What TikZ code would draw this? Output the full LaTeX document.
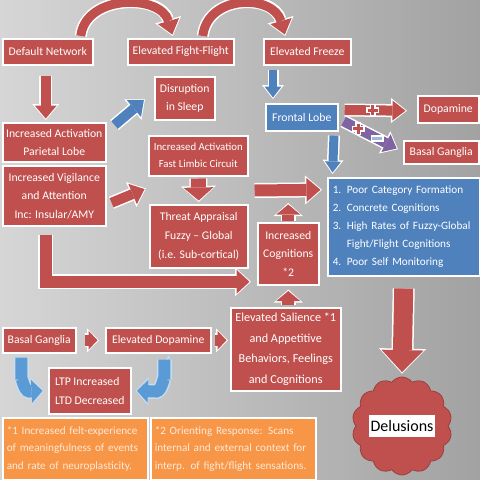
\documentclass[tikz,border=0pt]{standalone}
\usepackage{fontspec}
\setmainfont{Carlito}
\usetikzlibrary{arrows.meta,calc,shapes.symbols,shadows}
\definecolor{rd}{HTML}{C0504D}
\definecolor{bl}{HTML}{4F81BD}
\definecolor{og}{HTML}{F79646}
\definecolor{pu}{HTML}{8064A2}
\definecolor{lb}{HTML}{5B9BD5}
\definecolor{ogtext}{HTML}{FDE9D9}
\definecolor{bgA}{HTML}{D6D6D6}
\definecolor{bgB}{HTML}{D0D0D0}
\definecolor{bgC}{HTML}{A2A2A2}
\begin{document}
\begin{tikzpicture}[x=1pt,y=-1pt,
  box/.style={draw=white, line width=1.5pt, fill=rd, text=white, anchor=north west,
    inner sep=2pt, align=center, font=\fontsize{11.7}{18.5}\selectfont,
    drop shadow={opacity=0.25,shadow xshift=1pt,shadow yshift=-1.5pt}},
  bbox/.style={box, fill=bl},
  obox/.style={draw=white, line width=1.5pt, fill=og, text=ogtext, anchor=north west,
    align=left, inner xsep=4pt, font=\fontsize{11.2}{17.5}\selectfont},
  fat/.style n args={8}{draw=#1, line width=#3, -{Triangle[width=#5,length=#7,line width=0pt]},
    shorten >=1.5pt,
    preaction={draw=#2, line width=#4, -{Triangle[width=#6,length=#8,line width=0pt]}, shorten >=0pt}},
  ra/.style={fat={rd}{white}{10pt}{13pt}{22pt}{27pt}{13pt}{16pt}},
  rb/.style={fat={rd}{white}{12pt}{15pt}{24pt}{29pt}{10pt}{13pt}},
  rs/.style={fat={rd}{white}{11pt}{14pt}{19pt}{24pt}{9pt}{12pt}},
  lbc/.style={fat={lb}{lb!35!white}{12pt}{15pt}{23pt}{28pt}{11pt}{13pt}},
  plusmark/.pic={\draw[white,line width=6pt] (-6.5,0)--(6.5,0) (0,-6.5)--(0,6.5);
    \draw[rd,line width=3pt] (-5,0)--(5,0) (0,-5)--(0,5);},
  minusmark/.pic={\draw[white,line width=6.5pt] (-6.5,0)--(6.5,0);
    \draw[bl!55!white,line width=3.5pt] (-5,0)--(5,0);}
]
\useasboundingbox (0,0) rectangle (480,480);
\shade[left color=bgA, middle color=bgB, right color=bgC] (0,0) rectangle (480,480);

% boxes
\node[box, minimum width=90, minimum height=26] (dn) at (2,38) {Default Network};
\node[box, minimum width=106, minimum height=26] (eff) at (127,38) {Elevated Fight-Flight};
\node[box, minimum width=87, minimum height=26] (efz) at (263,38) {Elevated Freeze};
\node[box, minimum width=60, minimum height=43] (dis) at (154,76) {Disruption\\in Sleep};
\node[box, minimum width=103, minimum height=39] (pl) at (2,122) {Increased Activation\\Parietal Lobe};
\node[box, minimum width=103, minimum height=60] (iv) at (2,165) {Increased Vigilance\\and Attention\\Inc: Insular/AMY};
\node[bbox, minimum width=72, minimum height=27] (fl) at (265,103) {Frontal Lobe};
\node[box, minimum width=61, minimum height=27] (dop) at (417,95) {Dopamine};
\node[box, minimum width=75, minimum height=23] (bgr) at (403,140) {Basal Ganglia};
\node[box, minimum width=99, minimum height=40, font=\fontsize{10.8}{17}\selectfont] (flc) at (148,135) {Increased Activation\\Fast Limbic Circuit};
\node[box, minimum width=98, minimum height=63, font=\fontsize{11.7}{19}\selectfont] (ta) at (149,204) {Threat Appraisal\\Fuzzy -- Global\\(i.e. Sub-cortical)};
\node[bbox, minimum width=152, minimum height=98, align=left, text width=142, inner xsep=5pt,
  font=\fontsize{11.2}{18}\selectfont] (pc) at (327,177)
  {1. Poor Category Formation\\2. Concrete Cognitions\\3. High Rates of Fuzzy-Global\\\hphantom{3. }Fight/Flight Cognitions\\4. Poor Self Monitoring};
\node[box, minimum width=61, minimum height=62] (ic) at (257,222) {Increased\\Cognitions\\*2};
\node[box, minimum width=110, minimum height=83, font=\fontsize{12.2}{20.5}\selectfont] (es) at (230,307) {Elevated Salience *1\\and Appetitive\\Behaviors, Feelings\\and Cognitions};
\node[box, minimum width=73, minimum height=25] (bgl) at (2,327) {Basal Ganglia};
\node[box, minimum width=105, minimum height=25] (edp) at (105,327) {Elevated Dopamine};
\node[box, minimum width=82, minimum height=46, align=left] (ltp) at (48,367) {LTP Increased\\LTD Decreased};
\node[obox, minimum width=145, minimum height=62, text width=137] (o1) at (2,417)
  {*1 Increased felt-experience\\of meaningfulness of events\\and rate of neuroplasticity.};
\node[obox, minimum width=165, minimum height=62, text width=157] (o2) at (150,417)
  {*2 Orienting Response: Scans\\internal and external context for\\interp. of fight/flight sensations.};
\node[cloud, cloud puffs=14, cloud puff arc=110, aspect=1, minimum width=100, minimum height=98,
  fill=rd, draw=rd!80!black, line width=0.8pt] (del) at (402,426) {};
\node[fill=white, text=black, font=\fontsize{16}{18}\selectfont, inner sep=2pt, minimum height=22] (deltxt) at (del.center) {Delusions};

% connectors
\draw[ra] ($(dn.south)+(-2,10)$) -- ($(pl.north)+(-8.5,-2)$);
\draw[fat={bl}{white}{10pt}{13pt}{22pt}{27pt}{13pt}{16pt}] ($(pl.north east)+(8,3)$) -- ($(dis.west)+(-9,1)$);
\draw[ra] ($(iv.east)+(5,7)$) -- ($(flc.south west)+(-2,12)$);
\draw[fat={rd}{white}{15pt}{18pt}{30pt}{35pt}{13pt}{16pt}] ($(flc.south)+(0,2)$) -- ($(ta.north)+(0,-2)$);
\draw[fat={rd}{white}{12pt}{15pt}{24pt}{29pt}{13pt}{16pt}] ($(iv.south)+(-8.5,8)$) |- ($(ic.west)+(-6,28)$);
\draw[fat={rd}{white}{12pt}{15pt}{24pt}{29pt}{14pt}{17pt}] ($(flc.south east)+(6,14)$) -- ($(pc.west)+(-5,-37)$);
\draw[rb] ($(ic.north)+(0,-1)$) -- ($(ic.north)+(0,-19)$);
\draw[rb] ($(es.north)+(2.5,-2)$) -- ($(ic.south)+(0,4)$);
\draw[fat={bl}{white}{8pt}{11pt}{17pt}{22pt}{11pt}{14pt}] ($(efz.south west)+(10,4)$) -- ($(fl.north west)+(8,-4)$);
\coordinate (fd1) at ($(fl.north east)+(6,7)$);
\coordinate (fd2) at ($(dop.west)+(-10,1.5)$);
\draw[fat={rd}{white}{10pt}{13pt}{20pt}{25pt}{13pt}{16pt}] (fd1) -- (fd2);
\pic at ($(fd1)!0.45!(fd2)$) {plusmark};
\coordinate (fb1) at ($(fl.east)+(5,4)$);
\coordinate (fb2) at ($(bgr.west)+(-5,-3)$);
\draw[fat={pu}{white}{10pt}{13pt}{20pt}{25pt}{12pt}{15pt}] (fb1) -- (fb2);
\pic at ($(fb1)!0.27!(fb2)$) {plusmark};
\pic at ($(fb1)!0.62!(fb2)$) {minusmark};
\draw[fat={bl}{white}{9pt}{12pt}{16pt}{21pt}{11pt}{14pt}] ($(fl.south east)+(-4.5,4)$) -- ($(pc.north west)+(5.5,-3)$);
\draw[fat={rd}{white}{19pt}{22pt}{42pt}{47pt}{22pt}{25pt}] ($(pc.south)+(0,12)$) -- ($(del.north)+(0,-3)$);
\draw[rs] ($(bgl.east)+(8,0)$) -- ($(edp.west)+(-6,0)$);
\draw[rs] ($(edp.east)+(3,0)$) -- ($(es.west)+(-2,-9)$);
\draw[lbc] ($(bgl.south)+(-18,4)$) -- ++(0,22) to[out=90,in=180] ++(8,12) -- ($(ltp.west)+(-4,0)$);
\draw[lbc] ($(edp.south)+(6,6)$) -- ++(0,20) to[out=90,in=0] ++(-8,12) -- ($(ltp.east)+(4,0)$);
\draw[fat={rd}{white}{9pt}{12pt}{22pt}{27pt}{14pt}{17pt}] ($(dn.north)+(33,-2)$) .. controls +(5,-42) and +(-12,-42) .. ($(eff.north)+(-8,-2)$);
\draw[fat={rd}{white}{9pt}{12pt}{22pt}{27pt}{14pt}{17pt}] ($(eff.north)+(22,-2)$) .. controls +(5,-42) and +(-12,-42) .. ($(efz.north)+(-22,-2)$);
\end{tikzpicture}
\end{document}
